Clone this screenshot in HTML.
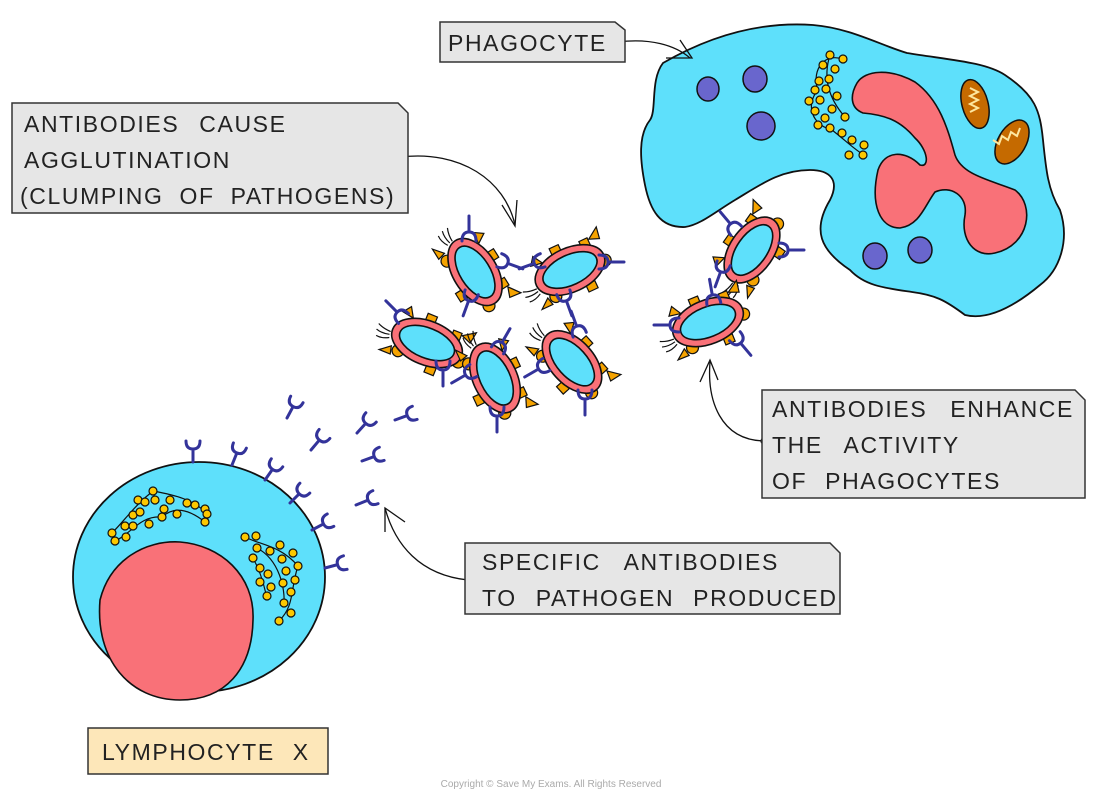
<!DOCTYPE html>
<html><head><meta charset="utf-8"><style>
body{margin:0;background:#fff;width:1100px;height:795px;overflow:hidden}
svg{display:block}
text{font-family:"Liberation Sans",sans-serif;fill:#222}
.lb{font-size:23px;letter-spacing:1.6px}
</style></head><body>
<svg width="1100" height="795" viewBox="0 0 1100 795">
<defs>
<g id="ab"><path d="M0,0 L0,-13 M-7,-21 Q-7,-13 0,-13 Q7,-13 7,-21" fill="none" stroke="#33339a" stroke-width="3" stroke-linecap="round"/></g>
<g id="abb"><path d="M-7,-5 Q-7,4 0,4 Q7,4 7,-5 M0,4 L0,20" fill="none" stroke="#33339a" stroke-width="3" stroke-linecap="round"/></g>
<g id="pt">
<path d="M-38,6 q-8,2 -14,0 M-38,3 q-8,0 -14,-3 M-37,9 q-7,4 -13,3" stroke="#111" fill="none" stroke-width="1.2"/>
<rect x="-10" y="-28" width="10" height="8" fill="#f5a300" stroke="#111" stroke-width="1.2"/>
<rect x="8" y="20" width="10" height="8" fill="#f5a300" stroke="#111" stroke-width="1.2"/>
<rect x="20" y="-22" width="9" height="8" fill="#f5a300" stroke="#111" stroke-width="1.2"/>
<path d="M30,-20 l12,-8 -2,12z M-32,16 l-10,8 12,0z M-22,-18 l-12,-2 6,-8z" fill="#f5a300" stroke="#111" stroke-width="1.2"/>
<circle cx="-24" cy="18" r="6" fill="#f5a300" stroke="#111" stroke-width="1.2"/>
<circle cx="36" cy="6" r="6" fill="#f5a300" stroke="#111" stroke-width="1.2"/>
<ellipse rx="37" ry="22" fill="#f97178" stroke="#111" stroke-width="1.6"/>
<ellipse rx="29" ry="15" fill="#5ee0fb" stroke="#111" stroke-width="1.6"/>
</g>
</defs>

<!-- phagocyte -->
<path d="M663,63 C720,30 770,22 813,25 C850,28 880,45 907,53 C950,60 985,62 1005,75 C1035,95 1040,110 1043,140 C1046,170 1048,190 1060,210 C1070,240 1060,270 1040,285 C1010,310 985,320 965,315 C945,300 935,295 912,292 C885,288 865,286 850,270 C820,250 812,230 830,200 C840,180 830,170 810,170 C780,170 760,185 735,200 C715,212 700,225 685,227 C660,228 650,210 645,185 C640,160 638,135 650,120 C657,110 650,80 663,63Z" fill="#5ee0fb" stroke="#111" stroke-width="1.8"/>
<path d="M857,83 C865,70 890,68 915,82 C940,100 948,130 955,155 C962,175 990,180 1015,190 C1035,205 1030,245 995,253 C975,258 960,240 965,215 C968,195 950,185 935,192 C925,205 920,225 900,228 C880,228 870,205 878,170 C885,150 905,150 920,165 C930,168 928,150 915,138 C900,120 885,115 863,113 C850,108 850,95 857,83Z" fill="#f97178" stroke="#111" stroke-width="1.6"/>
<ellipse cx="708" cy="89" rx="11" ry="12" fill="#6966cd" stroke="#111" stroke-width="1.5"/>
<ellipse cx="755" cy="79" rx="12" ry="13" fill="#6966cd" stroke="#111" stroke-width="1.5"/>
<ellipse cx="761" cy="126" rx="14" ry="14" fill="#6966cd" stroke="#111" stroke-width="1.5"/>
<ellipse cx="875" cy="256" rx="12" ry="13" fill="#6966cd" stroke="#111" stroke-width="1.5"/>
<ellipse cx="920" cy="250" rx="12" ry="13" fill="#6966cd" stroke="#111" stroke-width="1.5"/>
<ellipse cx="975" cy="104" rx="13" ry="25" transform="rotate(-15 975 104)" fill="#c56a00" stroke="#111" stroke-width="1.5"/>
<ellipse cx="1012" cy="142" rx="14" ry="24" transform="rotate(30 1012 142)" fill="#c56a00" stroke="#111" stroke-width="1.5"/>
<path d="M970,88 l8,4 -8,4 8,4 -8,4 8,4 -8,4" stroke="#fde7a0" fill="none" stroke-width="2"/>
<path d="M1020,128 l-3,8 -6,-4 -3,8 -6,-4 -3,8 -6,-4" stroke="#fde7a0" fill="none" stroke-width="2"/>
<g fill="#fdc800" stroke="#111" stroke-width="1.2">
<path d="M843,59 C820,52 812,75 818,90 C805,105 812,125 832,130 C845,140 855,150 864,155" fill="none"/>
<path d="M830,55 C822,80 830,100 845,117" fill="none"/>
<circle cx="830" cy="55" r="4"/><circle cx="843" cy="59" r="4"/><circle cx="823" cy="65" r="4"/><circle cx="835" cy="69" r="4"/><circle cx="819" cy="81" r="4"/><circle cx="829" cy="79" r="4"/><circle cx="815" cy="90" r="4"/><circle cx="826" cy="89" r="4"/><circle cx="837" cy="96" r="4"/><circle cx="809" cy="101" r="4"/><circle cx="820" cy="100" r="4"/><circle cx="832" cy="109" r="4"/><circle cx="815" cy="111" r="4"/><circle cx="825" cy="118" r="4"/><circle cx="845" cy="117" r="4"/><circle cx="818" cy="125" r="4"/><circle cx="830" cy="128" r="4"/><circle cx="842" cy="133" r="4"/><circle cx="852" cy="140" r="4"/><circle cx="864" cy="145" r="4"/><circle cx="849" cy="155" r="4"/><circle cx="863" cy="155" r="4"/>
</g>

<!-- lymphocyte -->
<ellipse cx="199" cy="577" rx="126" ry="115" fill="#5ee0fb" stroke="#111" stroke-width="1.8"/>
<path d="M100,600 C110,560 145,540 180,542 C220,545 255,575 253,620 C252,670 225,700 180,700 C130,700 95,660 100,600Z" fill="#f97178" stroke="#111" stroke-width="1.6"/>
<g fill="#fdc800" stroke="#111" stroke-width="1.2">
<path d="M112,533 C125,520 135,505 153,491 C175,495 195,500 207,514 M115,541 C130,535 140,515 162,517 C175,505 190,510 205,522" fill="none"/>
<path d="M245,537 C260,545 280,545 298,566 C290,590 295,605 279,621 M253,558 C265,580 265,595 267,596 M257,548 C280,560 285,590 284,603" fill="none"/>
<circle cx="112" cy="533" r="4"/><circle cx="115" cy="541" r="4"/><circle cx="125" cy="526" r="4"/><circle cx="126" cy="537" r="4"/><circle cx="133" cy="515" r="4"/><circle cx="133" cy="526" r="4"/><circle cx="138" cy="500" r="4"/><circle cx="140" cy="512" r="4"/><circle cx="145" cy="502" r="4"/><circle cx="149" cy="524" r="4"/><circle cx="153" cy="491" r="4"/><circle cx="155" cy="500" r="4"/><circle cx="162" cy="517" r="4"/><circle cx="164" cy="509" r="4"/><circle cx="170" cy="500" r="4"/><circle cx="177" cy="514" r="4"/><circle cx="187" cy="503" r="4"/><circle cx="195" cy="505" r="4"/><circle cx="205" cy="509" r="4"/><circle cx="205" cy="522" r="4"/><circle cx="207" cy="514" r="4"/>
<circle cx="245" cy="537" r="4"/><circle cx="256" cy="536" r="4"/><circle cx="257" cy="548" r="4"/><circle cx="270" cy="551" r="4"/><circle cx="280" cy="545" r="4"/><circle cx="293" cy="553" r="4"/><circle cx="253" cy="558" r="4"/><circle cx="282" cy="559" r="4"/><circle cx="298" cy="566" r="4"/><circle cx="260" cy="568" r="4"/><circle cx="268" cy="574" r="4"/><circle cx="286" cy="571" r="4"/><circle cx="295" cy="580" r="4"/><circle cx="260" cy="582" r="4"/><circle cx="283" cy="583" r="4"/><circle cx="271" cy="587" r="4"/><circle cx="291" cy="592" r="4"/><circle cx="267" cy="596" r="4"/><circle cx="284" cy="603" r="4"/><circle cx="291" cy="613" r="4"/><circle cx="279" cy="621" r="4"/>
</g>
<use href="#ab" transform="translate(193,462)"/>
<use href="#ab" transform="translate(232,465) rotate(22)"/>
<use href="#ab" transform="translate(265,480) rotate(35)"/>
<use href="#ab" transform="translate(290,503) rotate(45)"/>
<use href="#ab" transform="translate(312,530) rotate(62)"/>
<use href="#ab" transform="translate(325,568) rotate(75)"/>
<use href="#ab" transform="translate(287,418) rotate(28)"/>
<use href="#ab" transform="translate(311,450) rotate(40)"/>
<use href="#ab" transform="translate(357,433) rotate(42)"/>
<use href="#ab" transform="translate(395,420) rotate(70)"/>
<use href="#ab" transform="translate(362,461) rotate(70)"/>
<use href="#ab" transform="translate(356,505) rotate(68)"/>

<!-- pathogens -->
<use href="#pt" transform="translate(475,272) rotate(58)"/>
<use href="#pt" transform="translate(570,270) rotate(-25)"/>
<use href="#pt" transform="translate(427,343) rotate(22)"/>
<use href="#pt" transform="translate(495,378) rotate(65)"/>
<use href="#pt" transform="translate(572,362) rotate(48)"/>
<use href="#pt" transform="translate(752,250) rotate(-55)"/>
<use href="#pt" transform="translate(708,322) rotate(-22)"/>
<g>
<use href="#abb" transform="translate(469,236) rotate(180)"/>
<use href="#abb" transform="translate(504,262) rotate(-70)"/>
<use href="#abb" transform="translate(538,262) rotate(70)"/>
<use href="#abb" transform="translate(604,262) rotate(-90)"/>
<use href="#abb" transform="translate(470,297) rotate(20)"/>
<use href="#abb" transform="translate(400,315) rotate(135)"/>
<use href="#abb" transform="translate(443,366) rotate(0)"/>
<use href="#abb" transform="translate(469,373) rotate(60)"/>
<use href="#abb" transform="translate(500,346) rotate(-150)"/>
<use href="#abb" transform="translate(497,412) rotate(0)"/>
<use href="#abb" transform="translate(565,297) rotate(-20)"/>
<use href="#abb" transform="translate(578,330) rotate(160)"/>
<use href="#abb" transform="translate(542,367) rotate(60)"/>
<use href="#abb" transform="translate(585,395) rotate(0)"/>
<use href="#abb" transform="translate(733,227) rotate(140)"/>
<use href="#abb" transform="translate(784,250) rotate(-90)"/>
<use href="#abb" transform="translate(722,268) rotate(20)"/>
<use href="#abb" transform="translate(713,299) rotate(170)"/>
<use href="#abb" transform="translate(674,325) rotate(90)"/>
<use href="#abb" transform="translate(738,340) rotate(-40)"/>
</g>

<!-- arrows -->
<g fill="none" stroke="#111" stroke-width="1.3">
<path d="M618,42 C650,38 675,45 690,58"/><path d="M680,40 L692,58 L666,58"/>
<path d="M401,157 C460,150 505,180 515,225"/><path d="M502,205 L515,226 L517,200"/>
<path d="M764,441 C720,440 707,400 710,362"/><path d="M700,382 L710,360 L718,380"/>
<path d="M468,580 C420,575 395,545 385,508"/><path d="M385,532 L385,508 L405,522"/>
</g>
<g fill="#fff" stroke="#111" stroke-width="1.2">
<circle cx="618" cy="42" r="3"/><circle cx="401" cy="157" r="3"/><circle cx="764" cy="441" r="3"/><circle cx="468" cy="580" r="3"/>
</g>

<!-- boxes -->
<g stroke="#333" stroke-width="1.5">
<path d="M440,22 H615 L625,30 V62 H440Z" fill="#e6e6e6"/>
<path d="M12,103 H398 L408,113 V213 H12Z" fill="#e6e6e6"/>
<path d="M762,390 H1075 L1085,400 V498 H762Z" fill="#e6e6e6"/>
<path d="M465,543 H830 L840,553 V614 H465Z" fill="#e6e6e6"/>
<path d="M88,728 H328 V774 H88Z" fill="#fde7b9"/>
</g>
<text class="lb" x="448" y="51">PHAGOCYTE</text>
<text class="lb" x="24" y="132" style="word-spacing:12px">ANTIBODIES CAUSE</text>
<text class="lb" x="24" y="168">AGGLUTINATION</text>
<text class="lb" x="20" y="204" style="word-spacing:8px">(CLUMPING OF PATHOGENS)</text>
<text class="lb" x="772" y="417" style="word-spacing:15px">ANTIBODIES ENHANCE</text>
<text class="lb" x="772" y="453" style="word-spacing:14px">THE ACTIVITY</text>
<text class="lb" x="772" y="489" style="word-spacing:10px">OF PHAGOCYTES</text>
<text class="lb" x="482" y="570" style="word-spacing:16px">SPECIFIC ANTIBODIES</text>
<text class="lb" x="482" y="606" style="word-spacing:11px">TO PATHOGEN PRODUCED</text>
<text class="lb" x="102" y="760" style="word-spacing:10px">LYMPHOCYTE X</text>
<text x="551" y="787" text-anchor="middle" style="font-size:10px;fill:#aaa">Copyright © Save My Exams. All Rights Reserved</text>
</svg>
</body></html>
